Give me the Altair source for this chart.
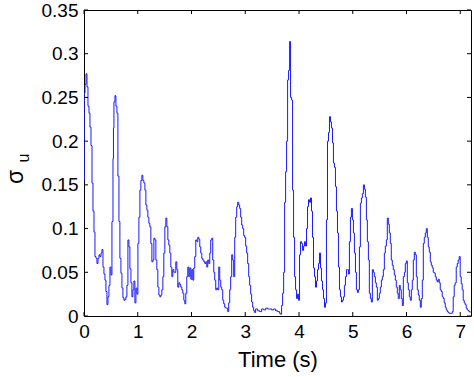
import altair as alt
import pandas as pd

time_s = [0.000, 0.005, 0.019, 0.037, 0.056, 0.074, 0.093, 0.111, 0.130, 0.149,
          0.167, 0.186, 0.204, 0.223, 0.241, 0.260, 0.279, 0.297, 0.316, 0.334,
          0.353, 0.371, 0.390, 0.408, 0.427, 0.446, 0.464, 0.483, 0.501, 0.520,
          0.539, 0.548, 0.557, 0.576, 0.594, 0.613, 0.631, 0.650, 0.668, 0.687,
          0.706, 0.724, 0.743, 0.761, 0.780, 0.798, 0.817, 0.836, 0.854, 0.873,
          0.891, 0.910, 0.928, 0.947, 0.966, 0.984, 1.003, 1.021, 1.040, 1.058,
          1.077, 1.095, 1.114, 1.133, 1.151, 1.170, 1.188, 1.207, 1.225, 1.244,
          1.263, 1.281, 1.300, 1.318, 1.337, 1.355, 1.374, 1.393, 1.411, 1.430,
          1.448, 1.467, 1.485, 1.504, 1.523, 1.541, 1.560, 1.578, 1.597, 1.615,
          1.634, 1.652, 1.671, 1.690, 1.708, 1.727, 1.745, 1.764, 1.782, 1.801,
          1.820, 1.838, 1.857, 1.875, 1.894, 1.912, 1.931, 1.950, 1.968, 1.987,
          2.005, 2.024, 2.042, 2.061, 2.080, 2.098, 2.117, 2.135, 2.154, 2.172,
          2.191, 2.210, 2.228, 2.247, 2.265, 2.284, 2.302, 2.321, 2.340, 2.358,
          2.377, 2.395, 2.414, 2.432, 2.451, 2.469, 2.488, 2.507, 2.525, 2.544,
          2.562, 2.581, 2.599, 2.618, 2.637, 2.655, 2.674, 2.692, 2.711, 2.729,
          2.748, 2.767, 2.785, 2.804, 2.822, 2.841, 2.859, 2.878, 2.896, 2.915,
          2.934, 2.952, 2.971, 2.989, 3.008, 3.026, 3.045, 3.064, 3.082, 3.101,
          3.119, 3.138, 3.156, 3.175, 3.193, 3.231, 3.268, 3.305, 3.342, 3.379,
          3.416, 3.453, 3.491, 3.528, 3.565, 3.602, 3.639, 3.658, 3.676, 3.695,
          3.714, 3.732, 3.751, 3.769, 3.788, 3.806, 3.825, 3.843, 3.862, 3.880,
          3.899, 3.918, 3.936, 3.955, 3.973, 3.992, 4.010, 4.029, 4.047, 4.066,
          4.085, 4.103, 4.122, 4.140, 4.159, 4.177, 4.196, 4.214, 4.233, 4.251,
          4.270, 4.288, 4.307, 4.326, 4.344, 4.363, 4.381, 4.400, 4.418, 4.437,
          4.456, 4.474, 4.493, 4.511, 4.530, 4.549, 4.567, 4.586, 4.604, 4.623,
          4.641, 4.660, 4.678, 4.697, 4.716, 4.734, 4.753, 4.771, 4.790, 4.808,
          4.827, 4.845, 4.864, 4.883, 4.901, 4.920, 4.938, 4.957, 4.975, 4.994,
          5.013, 5.031, 5.050, 5.068, 5.087, 5.105, 5.124, 5.142, 5.161, 5.179,
          5.198, 5.217, 5.235, 5.254, 5.272, 5.291, 5.309, 5.328, 5.346, 5.365,
          5.384, 5.402, 5.421, 5.439, 5.458, 5.476, 5.495, 5.513, 5.532, 5.550,
          5.569, 5.588, 5.606, 5.625, 5.643, 5.662, 5.680, 5.699, 5.717, 5.736,
          5.754, 5.773, 5.792, 5.810, 5.829, 5.847, 5.866, 5.884, 5.903, 5.922,
          5.941, 5.960, 5.978, 5.997, 6.015, 6.034, 6.053, 6.071, 6.090, 6.108,
          6.127, 6.145, 6.164, 6.183, 6.201, 6.220, 6.238, 6.257, 6.275, 6.294,
          6.313, 6.331, 6.350, 6.368, 6.387, 6.405, 6.424, 6.443, 6.461, 6.480,
          6.498, 6.517, 6.535, 6.554, 6.573, 6.591, 6.610, 6.628, 6.647, 6.665,
          6.684, 6.702, 6.721, 6.739, 6.758, 6.777, 6.795, 6.814, 6.832, 6.851,
          6.869, 6.888, 6.906, 6.925, 6.944, 6.962, 6.981, 6.999, 7.018, 7.036,
          7.055, 7.074, 7.092, 7.111, 7.129, 7.148, 7.167, 7.185]

sigma_u = [0.155, 0.255, 0.265, 0.277, 0.262, 0.240, 0.232, 0.216, 0.195, 0.152,
           0.120, 0.096, 0.068, 0.066, 0.060, 0.066, 0.070, 0.068, 0.072, 0.076,
           0.056, 0.048, 0.041, 0.028, 0.013, 0.022, 0.035, 0.056, 0.047, 0.108,
           0.180, 0.215, 0.245, 0.252, 0.240, 0.232, 0.160, 0.108, 0.066, 0.049,
           0.032, 0.021, 0.018, 0.019, 0.022, 0.035, 0.087, 0.079, 0.054, 0.038,
           0.022, 0.030, 0.040, 0.015, 0.032, 0.025, 0.083, 0.113, 0.144, 0.155,
           0.161, 0.155, 0.152, 0.144, 0.127, 0.121, 0.113, 0.106, 0.102, 0.083,
           0.062, 0.064, 0.089, 0.087, 0.064, 0.053, 0.033, 0.024, 0.022, 0.024,
           0.030, 0.045, 0.072, 0.102, 0.112, 0.102, 0.087, 0.081, 0.072, 0.056,
           0.045, 0.053, 0.050, 0.050, 0.062, 0.053, 0.033, 0.038, 0.036, 0.033,
           0.030, 0.026, 0.018, 0.014, 0.026, 0.045, 0.056, 0.045, 0.055, 0.042,
           0.053, 0.041, 0.055, 0.068, 0.087, 0.085, 0.090, 0.088, 0.079, 0.072,
           0.066, 0.064, 0.062, 0.060, 0.062, 0.056, 0.064, 0.060, 0.072, 0.087,
           0.089, 0.064, 0.050, 0.041, 0.030, 0.032, 0.030, 0.056, 0.041, 0.033,
           0.030, 0.018, 0.014, 0.010, 0.009, 0.009, 0.005, 0.015, 0.030, 0.045,
           0.070, 0.064, 0.045, 0.090, 0.113, 0.125, 0.130, 0.127, 0.123, 0.113,
           0.104, 0.100, 0.092, 0.090, 0.080, 0.072, 0.060, 0.045, 0.035, 0.025,
           0.016, 0.010, 0.006, 0.004, 0.008, 0.006, 0.005, 0.008, 0.007, 0.009,
           0.008, 0.008, 0.007, 0.008, 0.006, 0.005, 0.003, 0.002, 0.012, 0.026,
           0.050, 0.130, 0.165, 0.200, 0.270, 0.281, 0.314, 0.250, 0.247, 0.144,
           0.090, 0.045, 0.030, 0.020, 0.025, 0.018, 0.070, 0.085, 0.083, 0.075,
           0.080, 0.085, 0.080, 0.100, 0.125, 0.133, 0.130, 0.135, 0.120, 0.090,
           0.055, 0.045, 0.033, 0.040, 0.053, 0.060, 0.072, 0.055, 0.040, 0.030,
           0.020, 0.010, 0.015, 0.110, 0.200, 0.210, 0.228, 0.222, 0.215, 0.198,
           0.175, 0.170, 0.148, 0.120, 0.095, 0.056, 0.030, 0.022, 0.016, 0.018,
           0.022, 0.035, 0.045, 0.053, 0.053, 0.048, 0.085, 0.113, 0.123, 0.110,
           0.095, 0.072, 0.050, 0.030, 0.027, 0.030, 0.079, 0.129, 0.135, 0.140,
           0.150, 0.145, 0.136, 0.110, 0.085, 0.064, 0.026, 0.020, 0.016, 0.053,
           0.050, 0.045, 0.038, 0.033, 0.018, 0.020, 0.026, 0.033, 0.041, 0.045,
           0.053, 0.072, 0.080, 0.087, 0.112, 0.105, 0.095, 0.083, 0.064, 0.058,
           0.053, 0.047, 0.041, 0.033, 0.026, 0.020, 0.035, 0.030, 0.020, 0.012,
           0.045, 0.050, 0.060, 0.063, 0.038, 0.030, 0.022, 0.018, 0.030, 0.041,
           0.064, 0.073, 0.070, 0.045, 0.030, 0.024, 0.018, 0.010, 0.020, 0.041,
           0.083, 0.090, 0.095, 0.100, 0.090, 0.079, 0.073, 0.062, 0.058, 0.055,
           0.050, 0.049, 0.045, 0.041, 0.039, 0.042, 0.038, 0.030, 0.028, 0.022,
           0.020, 0.015, 0.010, 0.007, 0.005, 0.004, 0.003, 0.003, 0.003, 0.005,
           0.022, 0.035, 0.038, 0.056, 0.060, 0.064, 0.068, 0.045, 0.037, 0.030,
           0.018, 0.015, 0.013, 0.009, 0.007, 0.006, 0.005, 0.004]

x_ticks = [0, 1, 2, 3, 4, 5, 6, 7]
y_ticks = [0, 0.05, 0.1, 0.15, 0.2, 0.25, 0.3, 0.35]

W, H = 387, 306
FONT = "Liberation Sans"

df = pd.DataFrame({"t": time_s, "s": sigma_u})
xt = pd.DataFrame({"xv": x_ticks})
yt = pd.DataFrame({"yv": y_ticks})

xscale = alt.Scale(domain=[0, 7.2], nice=False, zero=False)
yscale = alt.Scale(domain=[0, 0.35], nice=False)

line = alt.Chart(df).mark_line(color="#1a1aff", strokeWidth=1, interpolate="step-after", clip=True).encode(
    x=alt.X("t:Q", scale=xscale,
            axis=alt.Axis(values=x_ticks, ticks=False, domain=False, grid=False,
                          labelFont=FONT, labelFontSize=19, labelColor="black",
                          labelPadding=6, title="Time (s)", titleFont=FONT,
                          titleFontSize=22, titleFontWeight="normal", titleColor="black",
                          titlePadding=8, labelFlush=False)),
    y=alt.Y("s:Q", scale=yscale,
            axis=alt.Axis(values=y_ticks, ticks=False, domain=False, grid=False,
                          labelFont=FONT, labelFontSize=19, labelColor="black",
                          labelPadding=6, title=None, labelFlush=False,
                          format=".2~f")),
)

tick_len = 4
bottom_ticks = alt.Chart(xt).mark_rule(color="black", strokeWidth=1).encode(
    x=alt.X("xv:Q", scale=xscale), y=alt.value(H), y2=alt.value(H - tick_len))
top_ticks = alt.Chart(xt).mark_rule(color="black", strokeWidth=1).encode(
    x=alt.X("xv:Q", scale=xscale), y=alt.value(0), y2=alt.value(tick_len))
left_ticks = alt.Chart(yt).mark_rule(color="black", strokeWidth=1).encode(
    y=alt.Y("yv:Q", scale=yscale), x=alt.value(0), x2=alt.value(tick_len))
right_ticks = alt.Chart(yt).mark_rule(color="black", strokeWidth=1).encode(
    y=alt.Y("yv:Q", scale=yscale), x=alt.value(W), x2=alt.value(W - tick_len))

sig = alt.Chart(pd.DataFrame({"lab": ["σ"]})).mark_text(
    font=FONT, fontSize=23, angle=270, align="center", baseline="middle", color="black"
).encode(text="lab:N", x=alt.value(-68), y=alt.value(167))
sub = alt.Chart(pd.DataFrame({"lab": ["u"]})).mark_text(
    font=FONT, fontSize=16, angle=270, align="center", baseline="middle", color="black"
).encode(text="lab:N", x=alt.value(-60), y=alt.value(148))

chart = alt.layer(line, bottom_ticks, top_ticks, left_ticks, right_ticks, sig, sub).properties(
    width=W, height=H,
    autosize=alt.AutoSizeParams(type="none"),
    padding={"left": 84, "top": 10, "right": 3, "bottom": 61},
    background="white",
).configure_view(stroke="black", strokeWidth=1)

chart.save("out.html", embed_options={"renderer": "svg", "actions": False})
